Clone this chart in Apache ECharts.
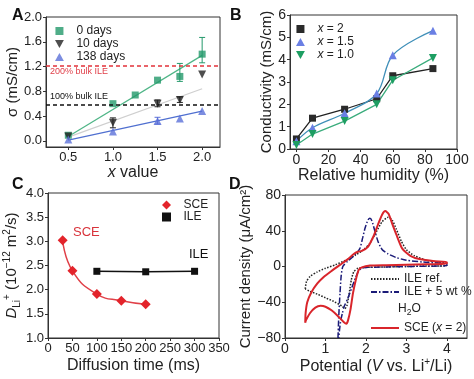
<!DOCTYPE html>
<html><head><meta charset="utf-8">
<script src="https://cdn.jsdelivr.net/npm/echarts@6/dist/echarts.min.js"></script>
<style>html,body{margin:0;padding:0;background:#fff}#c{width:474px;height:379px}</style>
</head><body><div id="c"></div><script>
// ---------- Panel A: conductivity vs x value ----------
const aXTicks = [0.5, 1.0, 1.5, 2.0];
const aYTicks = [0.0, 0.4, 0.8, 1.2, 1.6, 2.0];
const a0days   = [[0.5,0.09],[1.0,0.60],[1.25,0.74],[1.5,0.98],[1.75,1.04],[2.0,1.40]];
const a10days  = [[0.5,0.07],[1.0,0.29],[1.5,0.60],[1.75,0.66],[2.0,1.07]];
const a138days = [[0.5,0.02],[1.0,0.15],[1.5,0.32],[1.75,0.36],[2.0,0.48]];
const aFit0   = [[0.5,0.07],[2.0,1.38]];
const aFit10  = [[0.5,0.06],[2.0,0.84]];
const aFit138 = [[0.5,0.01],[2.0,0.48]];
const aErr0   = [[1.75,0.96,1.25],[2.0,1.26,1.67]];
const aErr10  = [[1.0,0.21,0.37],[1.5,0.55,0.66],[1.75,0.62,0.71]];
const aErr138 = [[1.5,0.27,0.38]];
const aBulk200 = 1.21, aBulk100 = 0.59;

// ---------- Panel B: conductivity vs humidity ----------
const bXTicks = [0, 20, 40, 60, 80, 100];
const humidity = [0, 10, 30, 50, 60, 85];
const bX2  = [0.45, 1.38, 1.78, 2.25, 3.28, 3.60];
const bX15 = [0.35, 0.95, 1.60, 2.48, 4.20, 5.30];
const bX10 = [0.18, 0.67, 1.25, 2.00, 3.08, 4.08];

// ---------- Panel C: diffusion coefficient ----------
const cTimeSCE = [30, 50, 100, 150, 200];
const cSCE = [3.02, 2.39, 1.91, 1.77, 1.70];
const cTimeILE = [100, 200, 300];
const cILE = [2.38, 2.37, 2.38];

// ---------- Panel D: cyclic voltammetry ----------
const dILEref = [[0.5,-25],[0.53,-17],[0.62,-11],[0.8,-6],[1.0,-2],[1.25,2],[1.5,7],[1.75,13],[1.95,19],[2.1,26],[2.25,38],[2.4,50],[2.55,55],[2.65,52],[2.75,42],[2.88,28],[3.0,19],[3.2,12],[3.5,7],[3.8,5],[4.0,4],
  [4.0,1],[3.5,0.5],[3.0,0],[2.5,-0.5],[2.0,-1],[1.8,-2],[1.7,-6],[1.64,-15],[1.58,-32],[1.53,-44],[1.48,-47],[1.4,-44],[1.2,-39],[1.0,-35],[0.8,-31],[0.6,-27.5],[0.5,-25]];
const dILEwater = [[1.31,-80],[1.33,-55],[1.36,-30],[1.39,-10],[1.43,0],[1.55,6],[1.72,12.5],[1.85,20],[1.92,32],[1.98,43],[2.05,52],[2.1,54],[2.15,51],[2.22,40],[2.3,28],[2.4,19],[2.55,14],[2.75,10],[3.0,7],[3.4,5],[4.0,3],
  [4.0,1],[3.0,0],[2.4,-0.5],[2.0,-1],[1.9,-1.5],[1.82,-5],[1.74,-13],[1.65,-24],[1.55,-36],[1.47,-44],[1.42,-52],[1.38,-60],[1.35,-70],[1.33,-80]];
const dSCE = [[0.5,-63],[0.51,-52],[0.55,-40],[0.65,-29],[0.8,-19],[0.95,-12],[1.15,-5],[1.35,1.5],[1.55,8],[1.7,14],[1.8,16.5],[1.9,17.5],[2.05,22],[2.2,35],[2.3,47],[2.4,58],[2.48,62],[2.56,59],[2.65,48],[2.76,35],[2.9,20],[3.1,12],[3.35,8],[3.7,6],[4.0,5],
  [4.0,3],[3.5,2.5],[3.0,2],[2.5,1.5],[2.1,1],[1.9,-1],[1.82,-4],[1.75,-15],[1.68,-30],[1.62,-48],[1.56,-60],[1.52,-64],[1.45,-62],[1.3,-55],[1.15,-49],[1.0,-45],[0.88,-44],[0.75,-46],[0.62,-52],[0.52,-60],[0.5,-63]];

const fam = 'Liberation Sans, Arial, Helvetica, sans-serif';
const ink = '#222';
const cGreen = '#23996a', cBlue = '#5b70d8', cRed = '#e3242b', cNavy = '#1b1b78';
const icSquare = 'path://M0,0H10V10H0Z';
const icUp = 'path://M5,0L10,9L0,9Z';
const icDown = 'path://M0,0L10,0L5,9Z';
const icDiamond = 'path://M5,0L10,5L5,10L0,5Z';

function ax(extra) {
  const base = {
    type: 'value',
    axisLine: {show: true, onZero: false, lineStyle: {color: '#333', width: 1}},
    axisTick: {show: true, inside: false, length: 3, lineStyle: {color: '#333'}},
    axisLabel: {color: ink, fontSize: 13, fontFamily: fam, margin: 4},
    splitLine: {show: false},
    nameLocation: 'middle',
    nameTextStyle: {color: ink, fontFamily: fam, fontSize: 15}
  };
  const o = Object.assign({}, base, extra);
  o.axisLabel = Object.assign({}, base.axisLabel, extra.axisLabel || {});
  o.axisTick = Object.assign({}, base.axisTick, extra.axisTick || {});
  o.nameTextStyle = Object.assign({}, base.nameTextStyle, extra.nameTextStyle || {});
  return o;
}
function errSeries(data, color, xi) {
  return {
    type: 'custom', xAxisIndex: xi, yAxisIndex: xi, data: data, z: 3, silent: true,
    encode: {x: 0, y: [1, 2]},
    renderItem: function (params, api) {
      const x = api.value(0), lo = api.value(1), hi = api.value(2);
      const p1 = api.coord([x, lo]), p2 = api.coord([x, hi]);
      const w = 3, st = {stroke: color, lineWidth: 1};
      return {type: 'group', children: [
        {type: 'line', shape: {x1: p1[0], y1: p1[1], x2: p2[0], y2: p2[1]}, style: st},
        {type: 'line', shape: {x1: p1[0]-w, y1: p1[1], x2: p1[0]+w, y2: p1[1]}, style: st},
        {type: 'line', shape: {x1: p2[0]-w, y1: p2[1], x2: p2[0]+w, y2: p2[1]}, style: st}
      ]};
    }
  };
}
const fmt1 = v => v.toFixed(1);
const italicX = {i: {fontStyle: 'italic', fontFamily: fam, fontSize: 12, color: ink}};
const legText = {fontSize: 12, fontFamily: fam, color: ink, rich: italicX};

const chart = echarts.init(document.getElementById('c'), null, {renderer: 'canvas'});
const gridBase = {show: true, borderColor: '#333', borderWidth: 1, containLabel: false, outerBoundsMode: 'none'};
chart.setOption({
  backgroundColor: '#fff',
  animation: false,
  grid: [
    Object.assign({left: 46, top: 17, width: 174, height: 130}, gridBase),
    Object.assign({left: 290, top: 15, width: 167, height: 134}, gridBase),
    Object.assign({left: 48, top: 193, width: 171, height: 145}, gridBase),
    Object.assign({left: 285, top: 195, width: 182, height: 143}, gridBase)
  ],
  xAxis: [
    ax({gridIndex: 0, min: 0.25, max: 2.2, name: '{i|x} value', nameGap: 13,
        nameTextStyle: {fontSize: 16, rich: {i: {fontStyle: 'italic', fontSize: 16, fontFamily: fam, color: ink}}},
        axisLabel: {customValues: aXTicks, formatter: fmt1}, axisTick: {customValues: aXTicks}}),
    ax({gridIndex: 1, min: -4, max: 100, name: 'Relative humidity (%)', nameGap: 13,
        nameTextStyle: {fontSize: 16}, axisLabel: {customValues: bXTicks, fontSize: 14}, axisTick: {customValues: bXTicks}}),
    ax({gridIndex: 2, min: 0, max: 350, interval: 50, name: 'Diffusion time (ms)', nameGap: 20,
        nameTextStyle: {fontSize: 16}}),
    ax({gridIndex: 3, min: 0, max: 4.5, interval: 1, name: 'Potential ({i|V} vs. Li{sup|+}/Li)', nameGap: 15,
        nameTextStyle: {fontSize: 16, rich: {i: {fontStyle: 'italic', fontSize: 16, fontFamily: fam, color: ink},
          sup: {fontSize: 10, fontFamily: fam, color: ink, verticalAlign: 'top', lineHeight: 20}}},
        axisLabel: {customValues: [0,1,2,3,4], fontSize: 14}, axisTick: {customValues: [0,1,2,3,4]}})
  ],
  yAxis: [
    ax({gridIndex: 0, min: -0.1, max: 2.0, name: 'σ (mS/cm)', nameGap: 24,
        axisLabel: {customValues: aYTicks, formatter: fmt1}, axisTick: {customValues: aYTicks}}),
    ax({gridIndex: 1, min: 0, max: 6, interval: 1, name: 'Conductivity (mS/cm)', nameGap: 16, axisLabel: {fontSize: 14}}),
    ax({gridIndex: 2, min: 1, max: 4, interval: 0.5, name: '{i|D}{sub|Li}{sup|+} (10{sup|−12} m{sup|2}/s)', nameGap: 26,
        axisLabel: {formatter: fmt1},
        nameTextStyle: {fontSize: 15, lineHeight: 20, rich: {
          i: {fontStyle: 'italic', fontSize: 15, fontFamily: fam, color: ink, lineHeight: 20},
          sub: {fontSize: 10, fontFamily: fam, color: ink, verticalAlign: 'bottom', lineHeight: 20},
          sup: {fontSize: 10, fontFamily: fam, color: ink, verticalAlign: 'top', lineHeight: 20}}}}),
    ax({gridIndex: 3, min: -80, max: 80, interval: 40, name: 'Current density (μA/cm²)', nameGap: 24,
        axisLabel: {fontSize: 14, formatter: v => String(v).replace('-', '−')}})
  ],
  legend: [
    {data: [{name: '0 days', icon: icSquare}, {name: '10 days', icon: icDown}, {name: '138 days', icon: icUp}],
     orient: 'vertical', left: 50, top: 20, itemWidth: 24, itemHeight: 8, itemGap: 1, symbolKeepAspect: true, textStyle: legText},
    {data: [{name: 'x = 2', icon: icSquare}, {name: 'x = 1.5', icon: icUp}, {name: 'x = 1.0', icon: icDown}],
     orient: 'vertical', left: 291, top: 18, itemWidth: 24, itemHeight: 8, itemGap: 1, symbolKeepAspect: true, textStyle: legText,
     formatter: n => n.replace(/^x/, '{i|x}')},
    {data: [{name: 'SCE', icon: icDiamond}, {name: 'ILE', icon: icSquare}],
     orient: 'vertical', left: 157, top: 194, itemWidth: 24, itemHeight: 9, itemGap: 0, symbolKeepAspect: true, textStyle: legText},
    {data: ['ILE ref.', 'ILE + 5 wt %'], orient: 'vertical', left: 365, top: 268, itemWidth: 28, itemHeight: 10, itemGap: 1,
     itemStyle: {opacity: 0}, textStyle: {fontSize: 12, fontFamily: fam, color: ink}},
    {data: ['SCE (x = 2)'], orient: 'vertical', left: 365, top: 317, itemWidth: 28, itemHeight: 10,
     itemStyle: {opacity: 0},
     textStyle: {fontSize: 12, fontFamily: fam, color: ink, rich: {i: {fontStyle: 'italic', fontSize: 12, fontFamily: fam, color: ink}}},
     formatter: n => n.replace('(x', '({i|x}')}
  ],
  series: [
    // Panel A fits
    {name: 'fit0', type: 'line', xAxisIndex: 0, yAxisIndex: 0, data: aFit0, symbol: 'none', lineStyle: {color: '#4fb587', width: 1.2}, z: 1,
     markLine: {symbol: 'none', silent: true, label: {show: false}, animation: false,
       data: [{yAxis: aBulk200, lineStyle: {color: '#e2323a', type: [4, 3], width: 1.5}},
              {yAxis: aBulk100, lineStyle: {color: '#111', type: [4, 3], width: 1.5}}]}},
    {name: 'fit10', type: 'line', xAxisIndex: 0, yAxisIndex: 0, data: aFit10, symbol: 'none', lineStyle: {color: '#cfcfcf', width: 1.2}, z: 1},
    {name: 'fit138', type: 'line', xAxisIndex: 0, yAxisIndex: 0, data: aFit138, symbol: 'none', lineStyle: {color: '#4f6fd0', width: 1.2}, z: 1},
    errSeries(aErr0, cGreen, 0), errSeries(aErr10, '#222', 0), errSeries(aErr138, cBlue, 0),
    {name: '0 days', type: 'scatter', xAxisIndex: 0, yAxisIndex: 0, data: a0days, symbol: 'rect', symbolSize: 7, itemStyle: {color: cGreen}, z: 4},
    {name: '10 days', type: 'scatter', xAxisIndex: 0, yAxisIndex: 0, data: a10days, symbol: 'triangle', symbolRotate: 180, symbolSize: 8, itemStyle: {color: '#222'}, z: 4},
    {name: '138 days', type: 'scatter', xAxisIndex: 0, yAxisIndex: 0, data: a138days, symbol: 'triangle', symbolSize: 8, itemStyle: {color: cBlue}, z: 4},
    // Panel B
    {name: 'x = 2', type: 'line', xAxisIndex: 1, yAxisIndex: 1, data: humidity.map((h, i) => [h, bX2[i]]), symbol: 'rect', symbolSize: 7,
     itemStyle: {color: '#2a2a2a'}, lineStyle: {color: '#222', width: 1.3}},
    {name: 'x = 1.5', type: 'line', xAxisIndex: 1, yAxisIndex: 1, data: humidity.map((h, i) => [h, bX15[i]]), symbol: 'triangle', symbolSize: 8, smooth: 0.35,
     itemStyle: {color: '#6a7fe4'}, lineStyle: {color: '#3f8fb8', width: 1.3}},
    {name: 'x = 1.0', type: 'line', xAxisIndex: 1, yAxisIndex: 1, data: humidity.map((h, i) => [h, bX10[i]]), symbol: 'triangle', symbolRotate: 180, symbolSize: 8,
     itemStyle: {color: '#1d9e62'}, lineStyle: {color: '#3aac7c', width: 1.3}},
    // Panel C
    {name: 'SCE', type: 'line', xAxisIndex: 2, yAxisIndex: 2, data: cTimeSCE.map((t, i) => [t, cSCE[i]]), symbol: 'diamond', symbolSize: 10, smooth: 0.5,
     itemStyle: {color: cRed}, lineStyle: {color: '#e04048', width: 1.5}},
    {name: 'ILE', type: 'line', xAxisIndex: 2, yAxisIndex: 2, data: cTimeILE.map((t, i) => [t, cILE[i]]), symbol: 'rect', symbolSize: 7,
     itemStyle: {color: '#111'}, lineStyle: {color: '#111', width: 1.5}},
    // Panel D
    {name: 'ILE ref.', type: 'line', xAxisIndex: 3, yAxisIndex: 3, data: dILEref, symbol: 'none', smooth: 0.2,
     itemStyle: {color: '#222'}, lineStyle: {color: '#222', width: 1.5, type: [1.5, 1.5]}},
    {name: 'ILE + 5 wt %', type: 'line', xAxisIndex: 3, yAxisIndex: 3, data: dILEwater, symbol: 'none', smooth: 0.2,
     itemStyle: {color: cNavy}, lineStyle: {color: cNavy, width: 1.5, type: [6, 2, 1.5, 2]}},
    {name: 'SCE (x = 2)', type: 'line', xAxisIndex: 3, yAxisIndex: 3, data: dSCE, symbol: 'none', smooth: 0.2,
     itemStyle: {color: '#d9252b'}, lineStyle: {color: '#d9252b', width: 2}}
  ],
  graphic: [
    {type: 'text', x: 12, y: 8, style: {text: 'A', fontSize: 16, fontWeight: 'bold', fontFamily: fam, fill: '#111'}},
    {type: 'text', x: 230, y: 8, style: {text: 'B', fontSize: 16, fontWeight: 'bold', fontFamily: fam, fill: '#111'}},
    {type: 'text', x: 12, y: 177, style: {text: 'C', fontSize: 16, fontWeight: 'bold', fontFamily: fam, fill: '#111'}},
    {type: 'text', x: 229, y: 177, style: {text: 'D', fontSize: 16, fontWeight: 'bold', fontFamily: fam, fill: '#111'}},
    {type: 'text', x: 50, y: 67, style: {text: '200% bulk ILE', fontSize: 9, fontFamily: fam, fill: '#e0404a'}},
    {type: 'text', x: 50, y: 92, style: {text: '100% bulk ILE', fontSize: 9, fontFamily: fam, fill: '#111'}},
    {type: 'text', x: 73, y: 226, style: {text: 'SCE', fontSize: 13, fontFamily: fam, fill: '#d8333b'}},
    {type: 'text', x: 189, y: 248, style: {text: 'ILE', fontSize: 13, fontFamily: fam, fill: '#111'}},
    {type: 'text', x: 398, y: 301, style: {text: 'H{s|2}O', fontSize: 12, fontFamily: fam, fill: ink,
      rich: {s: {fontSize: 8.5, fontFamily: fam, fill: ink, verticalAlign: 'bottom', lineHeight: 16}}}}
  ]
});
</script></body></html>
